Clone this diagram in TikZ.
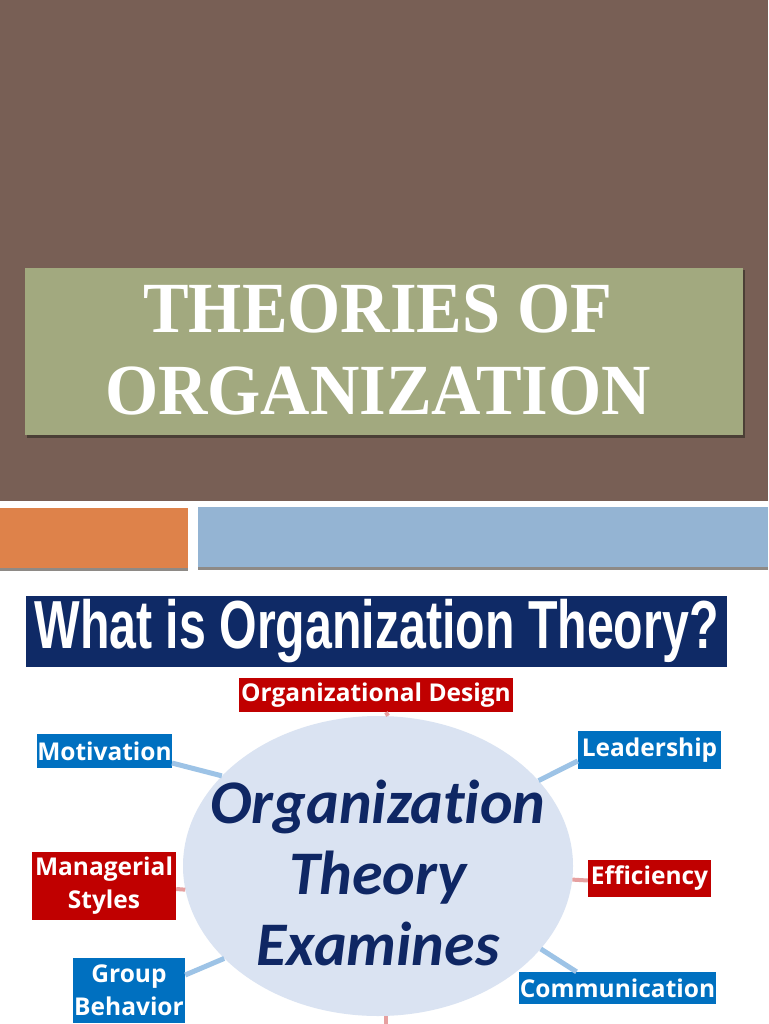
\documentclass[tikz,border=0pt]{standalone}
\usepackage{fontspec}
\usetikzlibrary{shapes.geometric}
\newfontfamily\titlefont{Liberation Serif}[FakeStretch=0.95]
\newfontfamily\bannerfont{Liberation Sans}[FakeStretch=0.71]
\newfontfamily\boxfont{Open Sans}
\newfontfamily\corefont{Carlito}[Ligatures=NoCommon]
\definecolor{brownbg}{HTML}{785F55}
\definecolor{titlegreen}{HTML}{A2A97F}
\definecolor{titleshadow}{HTML}{4B3F36}
\definecolor{barorange}{HTML}{DE824A}
\definecolor{barblue}{HTML}{94B4D3}
\definecolor{barshadow}{HTML}{8E8A86}
\definecolor{navy}{HTML}{0F2A66}
\definecolor{corefill}{HTML}{DAE3F2}
\definecolor{coretext}{HTML}{0F2764}
\definecolor{boxred}{HTML}{C00000}
\definecolor{boxblue}{HTML}{0070C0}
\definecolor{linkblue}{HTML}{9DC3E6}
\definecolor{linkred}{HTML}{E6A0A0}
\tikzset{
  redbox/.style={fill=boxred, text=white, inner sep=0pt, align=center,
    font=\boxfont\bfseries\fontsize{24.5}{33}\selectfont},
  bluebox/.style={redbox, fill=boxblue},
  bluelink/.style={draw=linkblue, line width=5pt},
  redlink/.style={draw=linkred, line width=4pt},
}
\begin{document}
\begin{tikzpicture}[x=1pt,y=-1pt]
\useasboundingbox (0,0) rectangle (768,1024);
\fill[white] (0,0) rectangle (768,1024);
% top slide
\fill[brownbg] (0,0) rectangle (768,501);
\fill[titleshadow] (27,270) rectangle (745,438);
\fill[titlegreen] (25,268) rectangle (743,435);
\node[inner sep=0pt, align=center, text=white,
  font=\titlefont\bfseries\fontsize{72}{82}\selectfont] (title) at (378,350)
  {THEORIES OF\\ORGANIZATION};
% bars
\fill[barshadow] (0,508) rectangle (188,571);
\fill[barorange] (0,508) rectangle (188,568);
\fill[barshadow] (198,507) rectangle (768,570);
\fill[barblue] (198,507) rectangle (768,567);
% banner
\node[fill=navy, text=white, inner sep=0pt, minimum width=701pt, minimum height=71pt,
  font=\bannerfont\bfseries\fontsize{68}{72}\selectfont] (banner) at (376.5,631.5)
  {What is Organization Theory?};
% central ellipse
\node[ellipse, fill=corefill, minimum width=390pt, minimum height=300pt, inner sep=0pt] (core) at (378,866) {};
\node[inner sep=0pt, align=center, text=coretext,
  font=\corefont\bfseries\itshape\fontsize{62}{71}\selectfont] (coretxt) at (378,873)
  {Organization\\Theory\\Examines};
% boxes
\node[redbox, minimum width=274pt, minimum height=34pt] (od) at (376,695) {Organizational Design};
\node[bluebox, minimum width=133pt, minimum height=34pt] (mot) at (104.5,751) {Motivation};
\node[bluebox, minimum width=143pt, minimum height=38pt] (lead) at (649.5,750) {Leadership};
\node[redbox, minimum width=144pt, minimum height=68pt] (ms) at (104,886) {Managerial\\Styles};
\node[redbox, minimum width=123pt, minimum height=37pt] (eff) at (649.5,878.5) {Efficiency};
\node[bluebox, minimum width=112pt, minimum height=65pt] (gb) at (129,990) {Group\\Behavior};
\node[bluebox, minimum width=197pt, minimum height=32pt] (comm) at (617.5,988) {Communication};
% connectors
\coordinate (bottomend) at (386,1024);
\draw[bluelink] ([yshift=-12pt]mot.east) -- (core.150);
\draw[bluelink] ([yshift=-11pt]lead.west) -- (core.28);
\draw[bluelink] ([xshift=-41pt]comm.north) -- (core.-27);
\draw[bluelink] ([yshift=15pt]gb.east) -- (core.211);
\draw[redlink] ([yshift=-3pt]ms.east) -- (core.187);
\draw[redlink] ([yshift=-2pt]eff.west) -- (core.-4);
\draw[redlink] ([xshift=10pt]od.south) -- ([xshift=10pt]core.north);
\draw[redlink] ([xshift=8pt]core.south) -- (bottomend);
\end{tikzpicture}
\end{document}
